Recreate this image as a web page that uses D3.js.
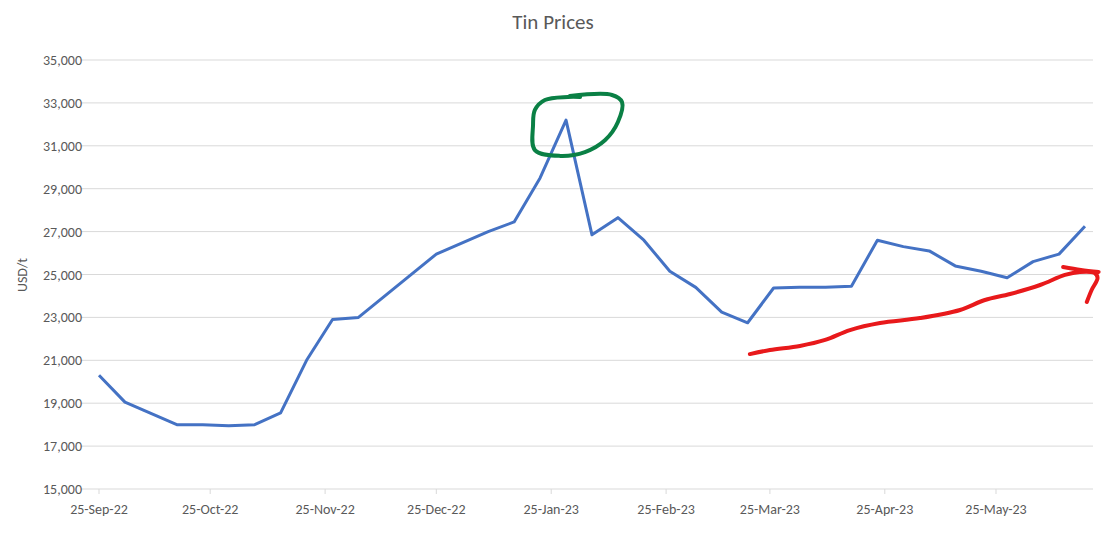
<!DOCTYPE html><html><head><meta charset="utf-8">
<script src="https://cdn.jsdelivr.net/npm/d3@7"></script>
<style>body{margin:0;background:#fff;font-family:Calibri,Carlito,"Liberation Sans",Arial,sans-serif}</style></head><body>
<svg id="c" width="1106" height="535"></svg>
<script>
const startDate = "2022-09-25";
const weekIndex = [0,1,3,4,5,6,7,8,9,10,13,15,16,17,18,19,20,21,22,23,24,25,26,27,28,29,30,31,32,33,34,35,36,37,38];
const prices = [20300,19050,18000,18000,17950,18000,18550,21000,22900,23000,25950,27000,27450,29500,32200,26850,27650,26600,25150,24400,23250,22750,24370,24400,24400,24450,26600,26300,26100,25400,25150,24850,25600,25950,27250];
const tickDates = ["2022-09-25","2022-10-25","2022-11-25","2022-12-25","2023-01-25","2023-02-25","2023-03-25","2023-04-25","2023-05-25"];
const yTicks = [15000,17000,19000,21000,23000,25000,27000,29000,31000,33000,35000];
const greenDays = [129.8,126.5,120.3,117.6,117.1,117.6,124.4,131.1,136.5,140,141.1,138.4,127.0];
const greenVals = [33275,33275,33135,32670,31970,30800,30530,30710,31260,32110,33040,33370,33320];
const redDays = [175.6,181,189.1,195.9,202.6,210.7,221.5,232.3,239,245.8,253.9,260.6,264.6,268.6,269.4,267.8,266.5];
const redVals = [21290,21480,21670,21950,22410,22740,22970,23345,23810,24090,24510,24980,25120,25070,24840,24280,23720];
const red2Days = [260.1,264.9,269.7];
const red2Vals = [25350,25210,25120];

const parse = d3.timeParse("%Y-%m-%d");
const t0 = parse(startDate);
const addDays = n => t0.getTime() + n*86400000;
const svg = d3.select("#c");
const x = d3.scaleTime().domain([t0, new Date(t0.getTime()+242*86400000)]).range([99,996]);
const y = d3.scaleLinear().domain([15000,35000]).range([489,60]);
const fmt = d3.format(",");
svg.append("g").selectAll("line").data(yTicks.slice(1)).join("line")
  .attr("x1",81).attr("x2",1093).attr("y1",d=>y(d)).attr("y2",d=>y(d))
  .attr("stroke","#d9d9d9").attr("stroke-width",1);
svg.append("line").attr("x1",81).attr("x2",1093).attr("y1",y(15000)).attr("y2",y(15000)).attr("stroke","#d9d9d9");
svg.append("g").selectAll("text").data(yTicks).join("text")
  .attr("x",82).attr("y",d=>y(d)+5).attr("text-anchor","end")
  .attr("font-size",14).attr("fill","#595959").text(d=>fmt(d));
const xt = tickDates.map(parse);
svg.append("g").selectAll("line").data(xt).join("line")
  .attr("x1",d=>x(d)).attr("x2",d=>x(d)).attr("y1",489).attr("y2",494).attr("stroke","#d9d9d9");
svg.append("g").selectAll("text").data(xt).join("text")
  .attr("x",d=>x(d)).attr("y",514).attr("text-anchor","middle")
  .attr("font-size",14).attr("fill","#595959").text(d3.timeFormat("%d-%b-%y"));
svg.append("text").attr("x",553).attr("y",29).attr("text-anchor","middle").attr("font-size",21).attr("fill","#595959").text("Tin Prices");
svg.append("text").attr("transform","translate(27,275) rotate(-90)").attr("text-anchor","middle").attr("font-size",14).attr("fill","#595959").text("USD/t");
const pts = weekIndex.map((w,i)=>[addDays(w*7), prices[i]]);
const line = d3.line().x(d=>x(d[0])).y(d=>y(d[1]));
svg.append("path").attr("d",line(pts)).attr("fill","none").attr("stroke","#4472C4").attr("stroke-width",3).attr("stroke-linejoin","round");
const curve = d3.line().x(d=>x(d[0])).y(d=>y(d[1])).curve(d3.curveCatmullRom);
svg.append("path").attr("d",curve(greenDays.map((d,i)=>[addDays(d),greenVals[i]]))).attr("fill","none").attr("stroke","#0a8045").attr("stroke-width",4).attr("stroke-linecap","round");
svg.append("path").attr("d",curve(redDays.map((d,i)=>[addDays(d),redVals[i]]))).attr("fill","none").attr("stroke","#e8191b").attr("stroke-width",4).attr("stroke-linecap","round");
svg.append("path").attr("d",curve(red2Days.map((d,i)=>[addDays(d),red2Vals[i]]))).attr("fill","none").attr("stroke","#e8191b").attr("stroke-width",4).attr("stroke-linecap","round");
</script></body></html>
